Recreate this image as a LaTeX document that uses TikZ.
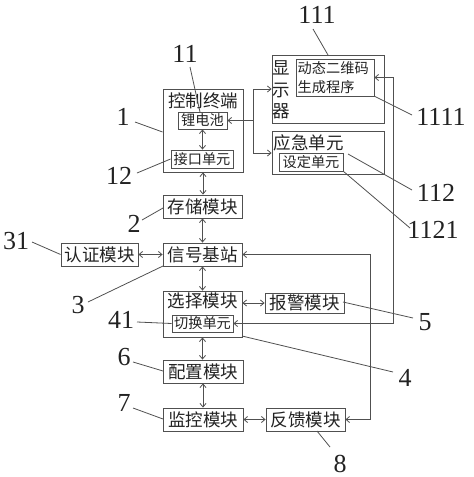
\documentclass[tikz,border=0pt]{standalone}
\usepackage{fontspec}
\setmainfont{Liberation Serif}
\newfontfamily\cjk{Noto Sans CJK SC}
\usetikzlibrary{arrows.meta}
\definecolor{ln}{HTML}{505050}
\definecolor{txt}{HTML}{222222}
\tikzset{
  bx/.style={draw=ln, line width=0.9pt, inner sep=0pt, text=txt, font=\cjk\fontsize{17.5}{17.5}\selectfont},
  ib/.style={bx, font=\cjk\fontsize{14.2}{14.2}\selectfont},
  tx/.style={inner sep=0pt, text=txt, font=\cjk\fontsize{17.5}{17.5}\selectfont},
  itx/.style={inner sep=0pt, text=txt, font=\cjk\fontsize{14.2}{19}\selectfont},
  num/.style={inner sep=0pt, text=txt, font=\fontsize{26}{26}\selectfont},
  ld/.style={draw=ln, line width=0.8pt},
  con/.style={draw=ln, line width=0.8pt},
  >={Straight Barb[length=3.5pt,width=6pt]}
}
\begin{document}
\begin{tikzpicture}[x=1pt,y=-1pt]
\useasboundingbox (0,0) rectangle (474,477);
% control terminal
\node[bx, minimum width=80pt, minimum height=83pt] (ctrl) at (203,130.5) {};
\node[tx] (ctrlt) at (203,101) {控制终端};
\node[ib, minimum width=49pt, minimum height=17pt] (li) at (202.5,120.5) {锂电池};
\node[ib, minimum width=62pt, minimum height=18pt] (jk) at (202,159) {接口单元};
% display
\node[bx, minimum width=112pt, minimum height=68pt] (xs) at (328,89) {};
\node[tx, align=center, font=\cjk\fontsize{17.5}{21.5}\selectfont] (xst) at (281,90) {显\\示\\器};
\node[bx, minimum width=78pt, minimum height=37pt] (dt) at (335,77.5) {};
\node[itx, anchor=west, align=left] (dtt) at (297.5,77.5) {动态二维码\\生成程序};
% emergency
\node[bx, minimum width=112pt, minimum height=43pt] (yj) at (328,152.5) {};
\node[tx, anchor=west] (yjt) at (273.5,143) {应急单元};
\node[ib, minimum width=64pt, minimum height=18pt] (sd) at (311,162) {设定单元};
% main column
\node[bx, minimum width=79pt, minimum height=23pt] (cc) at (202.5,206.5) {存储模块};
\node[bx, minimum width=79pt, minimum height=23pt] (xh) at (202.5,254.5) {信号基站};
\node[bx, minimum width=77pt, minimum height=23pt] (rz) at (99.5,254.5) {认证模块};
\node[bx, minimum width=79pt, minimum height=46pt] (xz) at (202.5,314) {};
\node[tx] (xzt) at (202.5,301) {选择模块};
\node[ib, minimum width=61pt, minimum height=17pt] (qh) at (202.5,323.5) {切换单元};
\node[bx, minimum width=79pt, minimum height=20pt] (bj) at (304.5,303) {报警模块};
\node[bx, minimum width=80pt, minimum height=23pt] (pz) at (203,371.5) {配置模块};
\node[bx, minimum width=80pt, minimum height=23pt] (jkm) at (203,419.5) {监控模块};
\node[bx, minimum width=79pt, minimum height=23pt] (fk) at (305.5,419.5) {反馈模块};
% connectors
\draw[con,<->] (li.south) -- (li.south |- jk.north);
\draw[con,<->] (ctrl.south) -- (ctrl.south |- cc.north);
\draw[con,<->] (cc.south) -- (xh.north);
\draw[con,<->] (rz.east) -- (xh.west);
\draw[con,<->] (xh.south) -- (xz.north);
\draw[con,<->] (bj.west -| xz.east) -- (bj.west);
\draw[con,<->] (xz.south) -- (xz.south |- pz.north);
\draw[con,<->] (pz.south) -- (jkm.north);
\draw[con,<->] (jkm.east) -- (fk.west);
\coordinate (bt) at (253,89);
\coordinate (bb) at (253,153);
\draw[con,<-] (li.east) -- (li.east -| bt);
\draw[con] (bt) -- (bb);
\draw[con,->] (bt) -- (xs.west);
\draw[con,->] (bb) -- (bb -| yj.west);
\coordinate (r1) at (370,419.5);
\draw[con,<->] (xh.east) -| (r1) -- (fk.east);
\coordinate (r2) at (393,323.5);
\draw[con,<->] (dt.east) -| (r2) -- (qh.east);
% labels
\node[num] (n1) at (123,117) {1};
\draw[ld] (135,122) -- (ctrl.west |- 0,132);
\node[num] (n11) at (185,54) {11};
\draw[ld] (190,67) -- (200,112);
\node[num] (n12) at (119,176) {12};
\draw[ld] (137,173) -- (jk.west);
\node[num] (n111) at (317,15) {111};
\draw[ld] (313,29) -- (328,55);
\node[num] (n1111) at (441,117) {1111};
\draw[ld] (412,115) -- (374,96);
\node[num] (n112) at (436,193) {112};
\draw[ld] (412,190) -- (348,154);
\node[num] (n1121) at (433,230) {1121};
\draw[ld] (410,228) -- (343,171);
\node[num] (n2) at (134,224) {2};
\draw[ld] (142,220) -- (163,208);
\node[num] (n31) at (16,241) {31};
\draw[ld] (32,242) -- (rz.west);
\node[num] (n3) at (78,305) {3};
\draw[ld] (88,302) -- (163,266);
\node[num] (n41) at (121,320) {41};
\draw[ld] (137,322) -- (qh.west);
\node[num] (n5) at (425,322) {5};
\draw[ld] (343,302) -- (413,318);
\node[num] (n4) at (405,378) {4};
\draw[ld] (242,336) -- (393,372);
\node[num] (n6) at (124,357) {6};
\draw[ld] (133,362) -- (163,371);
\node[num] (n7) at (124,403) {7};
\draw[ld] (133,408) -- (163,419);
\node[num] (n8) at (340,464) {8};
\draw[ld] (330,447) -- (317,431);
\end{tikzpicture}
\end{document}
